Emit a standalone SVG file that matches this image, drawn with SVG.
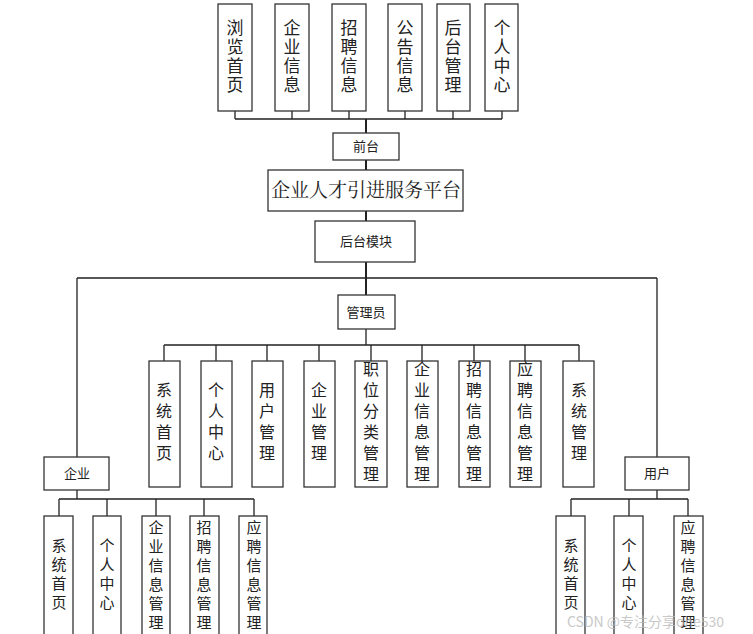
<svg xmlns="http://www.w3.org/2000/svg" width="753" height="634" viewBox="0 0 753 634">
<style>
rect{fill:#fff;stroke:#333;stroke-width:1.3}
.c line,.c path{stroke:#222;stroke-width:1.3;fill:none}
text{font-family:"Noto Sans CJK SC","Liberation Sans",sans-serif;fill:#222}
.v{writing-mode:vertical-rl;text-orientation:upright;text-anchor:middle;font-size:16px;letter-spacing:5px}
.t{font-size:17px;letter-spacing:2px}
.b{font-size:15px;letter-spacing:4px}
.h{font-size:13px;text-anchor:middle}
</style>
<rect width="753" height="634" style="fill:#fff;stroke:none"/>
<g class="c">
<path d="M235 111V119M292 111V119M349 111V119M405 111V119M453 111V119M502 111V119M235 119H502"/>
<path d="M366 119V133M366 160V170M366 211V221M366 262V295" style="stroke-width:2"/>
<path d="M77 278H657M77 278V457M657 278V457"/>
<path d="M366 329V345M164 345H579M164 345V361M216 345V361M267 345V361M319 345V361M371 345V361M422 345V361M474 345V361M525 345V361M579 345V361"/>
<path d="M77 490V499M59 499H254M59 499V516M107 499V516M156 499V516M204 499V516M254 499V516"/>
<path d="M657 490V499M571 499H688M571 499V516M629 499V516M688 499V516"/>
</g>
<g id="top">
<rect x="218" y="4" width="34" height="107"/><text class="v t" x="235" y="57">浏览首页</text>
<rect x="275" y="4" width="34" height="107"/><text class="v t" x="292" y="57">企业信息</text>
<rect x="332" y="4" width="34" height="107"/><text class="v t" x="349" y="57">招聘信息</text>
<rect x="388" y="4" width="34" height="107"/><text class="v t" x="405" y="57">公告信息</text>
<rect x="437" y="4" width="33" height="107"/><text class="v t" x="453" y="57">后台管理</text>
<rect x="485" y="4" width="33" height="107"/><text class="v t" x="502" y="57">个人中心</text>
</g>
<g id="qiantai"><rect x="333" y="133" width="66" height="27"/><text class="h" x="366" y="151">前台</text></g>
<g id="platform"><rect x="268" y="170" width="195" height="41"/><text x="366" y="197" style="font-size:19px;text-anchor:middle;font-family:'Noto Serif CJK SC','Noto Sans CJK SC',serif">企业人才引进服务平台</text></g>
<g id="houtai"><rect x="315" y="221" width="100" height="41"/><text class="h" x="366" y="246">后台模块</text></g>
<g id="admin"><rect x="338" y="295" width="57" height="34"/><text class="h" x="366" y="317">管理员</text></g>
<g id="admin-items">
<rect x="149" y="361" width="31" height="126"/><text class="v" x="164" y="424">系统首页</text>
<rect x="201" y="361" width="31" height="126"/><text class="v" x="216" y="424">个人中心</text>
<rect x="252" y="361" width="31" height="126"/><text class="v" x="267" y="424">用户管理</text>
<rect x="304" y="361" width="31" height="126"/><text class="v" x="319" y="424">企业管理</text>
<rect x="355" y="361" width="32" height="126"/><text class="v" x="371" y="424">职位分类管理</text>
<rect x="407" y="361" width="31" height="126"/><text class="v" x="422" y="424">企业信息管理</text>
<rect x="459" y="361" width="31" height="126"/><text class="v" x="474" y="424">招聘信息管理</text>
<rect x="510" y="361" width="31" height="126"/><text class="v" x="525" y="424">应聘信息管理</text>
<rect x="563" y="361" width="31" height="126"/><text class="v" x="579" y="424">系统管理</text>
</g>
<g id="company"><rect x="44" y="457" width="65" height="33"/><text class="h" x="77" y="478">企业</text></g>
<g id="company-items">
<rect x="44" y="516" width="29" height="130"/><text class="v b" x="59" y="576">系统首页</text>
<rect x="93" y="516" width="28" height="130"/><text class="v b" x="107" y="576">个人中心</text>
<rect x="142" y="516" width="28" height="130"/><text class="v b" x="156" y="577">企业信息管理</text>
<rect x="190" y="516" width="29" height="130"/><text class="v b" x="204" y="577">招聘信息管理</text>
<rect x="239" y="516" width="28" height="130"/><text class="v b" x="254" y="577">应聘信息管理</text>
</g>
<g id="user"><rect x="625" y="457" width="64" height="33"/><text class="h" x="657" y="478">用户</text></g>
<g id="user-items">
<rect x="556" y="516" width="29" height="130"/><text class="v b" x="571" y="576">系统首页</text>
<rect x="614" y="516" width="29" height="130"/><text class="v b" x="629" y="576">个人中心</text>
<rect x="674" y="516" width="29" height="130"/><text class="v b" x="688" y="577">应聘信息管理</text>
</g>
<text x="567" y="627" style="font-size:14px;fill:#bbb;opacity:0.8">CSDN @专注分享one530</text>
</svg>
